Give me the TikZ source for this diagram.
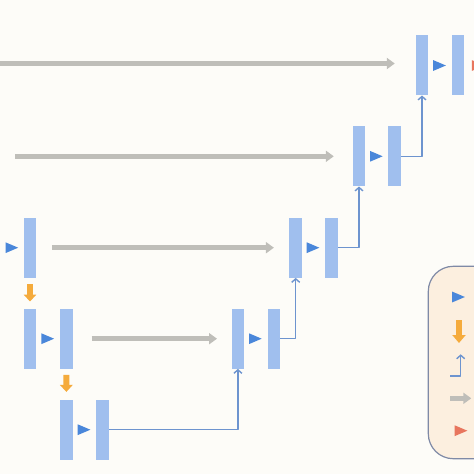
\documentclass[tikz,border=0pt]{standalone}
\usetikzlibrary{arrows.meta}
\definecolor{barblue}{HTML}{A0BFEE}
\definecolor{triblue}{HTML}{4A87DA}
\definecolor{upblue}{HTML}{6D94CF}
\definecolor{skipgray}{HTML}{BFBEB9}
\definecolor{downorange}{HTML}{F5AB3C}
\definecolor{outred}{HTML}{E8765E}
\definecolor{legfill}{HTML}{FCEFDF}
\definecolor{legline}{HTML}{7F8AA6}
\definecolor{paper}{HTML}{FDFCF8}
\begin{document}
\begin{tikzpicture}[x=1pt,y=-1pt,line join=round,
		bar/.style={fill=barblue,minimum width=12.6pt,minimum height=60pt,inner sep=0pt},
		skip/.style={draw=skipgray,line width=5.5pt,-{Triangle[width=11pt,length=8pt]}},
		down/.style={draw=downorange,line width=6pt,-{Triangle[width=12.5pt,length=7pt]}},
		up/.style={draw=upblue,line width=1.4pt,-{Straight Barb[length=3.5pt,width=8pt]}},
		tri/.pic={\fill (-6.3,-5.4) -- (6.4,0) -- (-6.3,5.4) -- cycle;}]
	\clip (0,0) rectangle (474,474);
	\fill [paper] (0,0) rectangle (474,474);
	% encoder
	\node [bar] (e1) at (30,247.7) {};
	\node [bar] (e2a) at (30,338.7) {};
	\node [bar] (e2b) at (66.2,338.7) {};
	\node [bar] (b1) at (66.5,429.5) {};
	\node [bar] (b2) at (102.5,429.5) {};
	% decoder
	\node [bar] (u1a) at (237.9,338.7) {};
	\node [bar] (u1b) at (273.9,338.7) {};
	\node [bar] (u2a) at (295.7,247.7) {};
	\node [bar] (u2b) at (331.7,247.7) {};
	\node [bar] (u3a) at (359,156.3) {};
	\node [bar] (u3b) at (394.7,156.3) {};
	\node [bar] (u4a) at (422,65.3) {};
	\node [bar] (u4b) at (458,65.3) {};
	% convolutions
	\pic [triblue] at (11.8,247.7) {tri};
	\pic [triblue] at (47.7,338.7) {tri};
	\pic [triblue] at (84,429.7) {tri};
	\pic [triblue] at (255.3,338.7) {tri};
	\pic [triblue] at (313,247.7) {tri};
	\pic [triblue] at (376.3,156.3) {tri};
	\pic [triblue] at (439.5,65.5) {tri};
	\pic [outred] at (478.1,65.5) {tri};
	% skip connections
	\coordinate (s4) at (0,63.5);
	\coordinate (s3) at (15.3,156.3);
	\draw [skip,shorten >=20.7pt] (s4) -- (s4 -| u4a.west);
	\draw [skip,shorten >=18.7pt] (s3) -- (u3a.west);
	\draw [skip,shorten <=15.4pt,shorten >=15.3pt] (e1.east) -- (u2a.west);
	\draw [skip,shorten <=19pt,shorten >=14.4pt] (e2b.east) -- (u1a.west);
	% pooling
	\draw [down,shorten <=6.3pt,shorten >=7pt] (e1.south) -- (e2a.north);
	\draw [down,shorten <=6pt,shorten >=7.4pt] (e2b.south) -- (b1.north);
	% up-convolutions
	\draw [up] (b2.east) -| (u1a.south);
	\draw [up] (u1b.east) -| (u2a.south);
	\draw [up] (u2b.east) -| (u3a.south);
	\draw [up] (u3b.east) -| (u4a.south);
	% legend
	\draw [draw=legline,fill=legfill,line width=1.2pt,rounded corners=25pt] (428.3,266.3) rectangle (520,458.7);
	\pic [triblue] at (458.5,297) {tri};
	\coordinate (l2a) at (459,320);
	\coordinate (l2b) at (459,343);
	\draw [down,line width=6.5pt,-{Triangle[width=13pt,length=8pt]}] (l2a) -- (l2b);
	\coordinate (l3a) at (450,376);
	\coordinate (l3b) at (460.7,354.3);
	\draw [up] (l3a) -| (l3b);
	\coordinate (l4a) at (450,398.3);
	\coordinate (l4b) at (471.3,398.3);
	\draw [skip,line width=5pt] (l4a) -- (l4b);
	\pic [outred] at (461,430.7) {tri};
\end{tikzpicture}
\end{document}
